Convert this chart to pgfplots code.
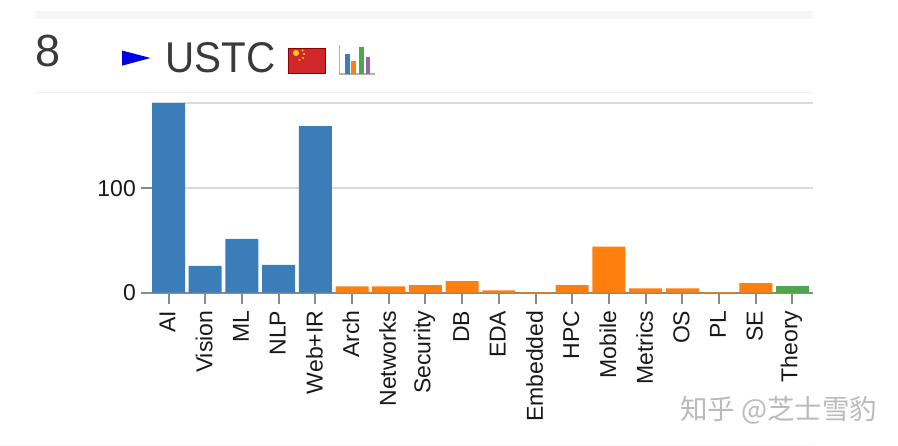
\documentclass[border=0pt]{standalone}
\usepackage{pgfplots}
\pgfplotsset{compat=1.18}
\usepackage{fontspec}
\setmainfont{Liberation Sans}
\newfontfamily\cjk{Noto Sans CJK SC}
\definecolor{cblue}{HTML}{3A7DB8}
\definecolor{corange}{HTML}{FF7F0E}
\definecolor{cgreen}{HTML}{4FA54E}
\definecolor{cpurple}{HTML}{9A62B5}
\definecolor{ctext}{HTML}{3A3A3A}
\definecolor{ctick}{HTML}{8A8A8A}
\definecolor{cgrid}{HTML}{DADADA}
\definecolor{cflag}{HTML}{D0282A}
\begin{document}
\begin{tikzpicture}
\path[use as bounding box] (0,0) rectangle (898bp,-446bp);
\begin{scope}[x=1bp,y=-1bp]
\fill[black!3] (35,11) rectangle (813,19);
\fill[black!3] (0,444.5) rectangle (813,446);
\draw[black!6,line width=1.2bp] (35,92.5) -- (813,92.5);
\node[anchor=base west,inner sep=0pt,text=ctext,font=\fontsize{45bp}{45bp}\selectfont] at (35.5,66) {8};
\fill[blue!90!black] (122,50.5) -- (150.5,58) -- (122,65.7) -- cycle;
\node[anchor=base west,inner sep=0pt,text=ctext,xscale=0.94,font=\fontsize{43bp}{43bp}\selectfont] at (165.5,72.7) {USTC};
% flag
\fill[red!55!black] (288,47.5) rectangle (326,73.5);
\fill[cflag] (289,48.5) rectangle (325,72.5);
\fill[yellow!70!orange] (296,53) circle (3);
\fill[yellow!70!orange] (302.5,50.5) circle (1.1);
\fill[yellow!70!orange] (304,54) circle (1.1);
\fill[yellow!70!orange] (303,58) circle (1.1);
\fill[yellow!70!orange] (299.5,60) circle (1.1);
% bar icon
\draw[black!30,line width=1.2bp] (339.5,45) -- (339.5,74) -- (374.5,74);
\fill[cblue] (345,54) rectangle (349.5,73.5);
\fill[corange] (351,61) rectangle (355.5,73.5);
\fill[cgreen] (359,47) rectangle (363.5,73.5);
\fill[cpurple] (365.5,57) rectangle (370,73.5);
\node[anchor=base west,inner sep=0pt,text=black!27,font=\cjk\fontsize{27.5bp}{27.5bp}\selectfont] at (680,419) {知乎\ @芝士雪豹};
\end{scope}
\begin{axis}[
  at={(152bp,-292.5bp)},anchor=south west,
  scale only axis,width=661bp,height=189.5bp,
  xmin=-0.45,xmax=17.56,ymin=0,ymax=182.2,
  axis y line=left,y axis line style={draw=none},
  axis x line=bottom,x axis line style={draw=ctick,line width=2bp,-},
  ybar,bar width=33bp,bar shift=0pt,
  xtick={0,...,17},
  xticklabels={AI,Vision,ML,NLP,Web+IR,Arch,Networks,Security,DB,EDA,Embedded,HPC,Mobile,Metrics,OS,PL,SE,Theory},
  ytick={0,100},
  extra y ticks={182.2},extra y tick labels={},
  extra y tick style={major tick length=0pt,grid=major},
  ymajorgrids,
  grid style={draw=cgrid,line width=2bp},
  major tick length=11.5bp,
  tick align=outside,
  tick style={draw=ctick,line width=2bp},
  xticklabel style={rotate=90,anchor=east,yshift=1bp,xshift=-4.5bp,inner sep=2bp},
  ticklabel style={font=\fontsize{23bp}{23bp}\selectfont,text=black!90},
  yticklabel style={inner sep=2bp,xshift=-2.5bp},
  /pgf/number format/assume math mode=true,
]
\addplot[fill=cblue,draw=none] coordinates {(0,182.2) (1,25.5) (2,51.5) (3,26.5) (4,160)};
\addplot[fill=corange,draw=none] coordinates {(5,6) (6,6) (7,7) (8,11) (9,2) (10,0.4) (11,7) (12,44) (13,4) (14,4) (15,0.4) (16,9)};
\addplot[fill=cgreen,draw=none] coordinates {(17,6)};
\end{axis}
\end{tikzpicture}
\end{document}
